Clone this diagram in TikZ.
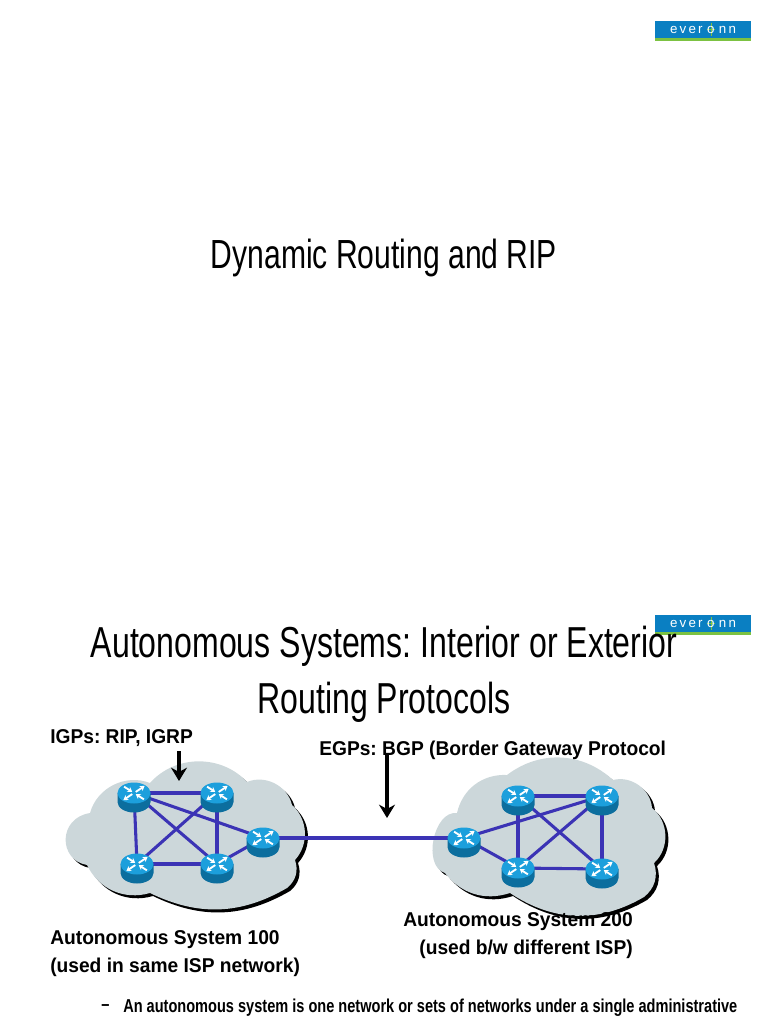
\documentclass[tikz,border=0pt]{standalone}
\usepackage{fontspec}
\setmainfont{Liberation Sans}
\newfontfamily\titlefont[FakeStretch=0.74]{Liberation Sans}
\newfontfamily\bodyfont[FakeStretch=0.78]{Liberation Sans}
\newfontfamily\labelfont[FakeStretch=0.96]{Liberation Sans}
\usetikzlibrary{arrows.meta}
\definecolor{cloudgrey}{HTML}{CCD7DA}
\definecolor{linkblue}{HTML}{3B33B5}
\definecolor{routertop}{HTML}{1C9FDC}
\definecolor{routerside}{HTML}{0C6E9E}
\definecolor{logoblue}{HTML}{0A7FC2}
\definecolor{logogreen}{HTML}{7CC242}
\tikzset{routerpt/.style={inner sep=0pt,minimum size=0pt},
         link/.style={draw=linkblue,line width=2.3pt},
         pointer/.style={-{Stealth[length=10pt,width=12pt]},line width=3pt},
         titletext/.style={inner sep=0pt,font=\titlefont\frenchspacing\fontsize{32.5}{37}\selectfont},
         labeltext/.style={inner sep=0pt,font=\labelfont\bfseries\frenchspacing\fontsize{15}{21}\selectfont},
         bodytext/.style={inner sep=0pt,anchor=west,font=\bodyfont\bfseries\frenchspacing\fontsize{14}{17}\selectfont},
         router/.pic={
            \fill[routerside] (-16.5,0) -- (-16.5,9) arc[x radius=16.5,y radius=10.5,start angle=180,end angle=0] -- (16.5,0) -- cycle;
            \fill[routertop] (0,0) ellipse[x radius=16.5,y radius=10.5];
            \foreach \a in {45,225} {
                \draw[white,line width=1.4pt,-{Stealth[length=3.5pt,width=4.5pt]}] (\a:14 and 9) -- (\a:2.5 and 1.5);
            }
            \foreach \a in {135,315} {
                \draw[white,line width=1.4pt,-{Stealth[length=3.5pt,width=4.5pt]}] (\a:2.5 and 1.5) -- (\a:15 and 10);
            }
         },
         logo/.pic={
            \fill[logoblue] (0,0) rectangle (96,17);
            \fill[logogreen] (0,17) rectangle (96,20);
            \draw[logogreen,line width=.6pt] (56,2) -- (56,15) (52,8.5) -- (60,8.5);
            \node[white,font=\fontsize{10}{11}\selectfont] (logotext) at (48,8.5) {e\,v\,e\,r\,\,o\,\,n\,n};
         }}
\newcommand{\cloudleft}{(90,813) to[bend left=48] (150,783) to[bend left=48] (247,782)
    to[bend left=50] (292,805) to[bend left=45] (295,860) to[bend left=35] (287,888)
    to[bend left=28] (150,893) to[bend left=40] (87,865) .. controls (58,860) and (58,818) .. (90,813) -- cycle}
\newcommand{\cloudright}{(457,813) to[bend left=40] (507,775) to[bend left=40] (613,780)
    to[bend left=50] (652,808) to[bend left=50] (654,863) to[bend left=35] (644,897)
    to[bend left=32] (510,893) to[bend left=35] (445,873) to[bend left=85] (457,813) -- cycle}
\begin{document}
\begin{tikzpicture}[x=0.75pt,y=-0.75pt]
\useasboundingbox (0,0) rectangle (768,1024);
\clip (0,0) rectangle (768,1024);
\pic at (655,21) {logo};
\pic at (655,615) {logo};
\node[titletext,font=\titlefont\frenchspacing\fontsize{30.5}{37}\selectfont] (heading) at (384,258) {Dynamic Routing and RIP};
\node[titletext] (asheading) at (384,646) {Autonomous Systems: Interior or Exterior};
\node[titletext] (asheadingb) at (384,702) {Routing Protocols};
% clouds
\fill[black,shift={(3,3)}] \cloudleft;
\fill[cloudgrey] \cloudleft;
\fill[black,shift={(3,3)}] \cloudright;
\fill[cloudgrey] \cloudright;
% routers of system 100
\node[routerpt] (ra) at (134,793) {};
\node[routerpt] (rb) at (217,793) {};
\node[routerpt] (rc) at (263,838) {};
\node[routerpt] (rd) at (137,864) {};
\node[routerpt] (re) at (217,864) {};
% routers of system 200
\node[routerpt] (rf) at (518,796) {};
\node[routerpt] (rg) at (602,796) {};
\node[routerpt] (rh) at (464,838) {};
\node[routerpt] (ri) at (518,868) {};
\node[routerpt] (rj) at (602,869) {};
\foreach \from/\to in {ra/rb,ra/rc,ra/rd,ra/re,rb/rd,rb/re,rd/re,re/rc,rc/rh,
                       rf/rg,rf/ri,rf/rj,rg/rh,rg/ri,rg/rj,rh/ri,ri/rj}
    \draw[link] (\from) -- (\to);
\foreach \r in {ra,rb,rc,rd,re,rf,rg,rh,ri,rj}
    \pic at (\r) {router};
% labels
\node[labeltext,anchor=west] (igp) at (50,738) {IGPs: RIP, IGRP};
\node[labeltext,anchor=west] (egp) at (319,750) {EGPs: BGP (Border Gateway Protocol};
\coordinate (igptip) at (179,781);
\coordinate (igptail) at (179,751);
\coordinate (egptip) at (387,818);
\coordinate (egptail) at (387,755);
\draw[pointer] (igptail) -- (igptip);
\draw[pointer] (egptail) -- (egptip);
\node[labeltext,anchor=north west,align=left] (asleft) at (50,930) {Autonomous System 100\\(used in same ISP network)};
\node[labeltext,anchor=north east,align=right] (asright) at (633,912) {Autonomous System 200\\(used b/w different ISP)};
\node[bodytext] (dash) at (101,1008) {–};
\node[bodytext] (bullet) at (123,1008) {An autonomous system is one network or sets of networks under a single administrative};
\end{tikzpicture}
\end{document}
